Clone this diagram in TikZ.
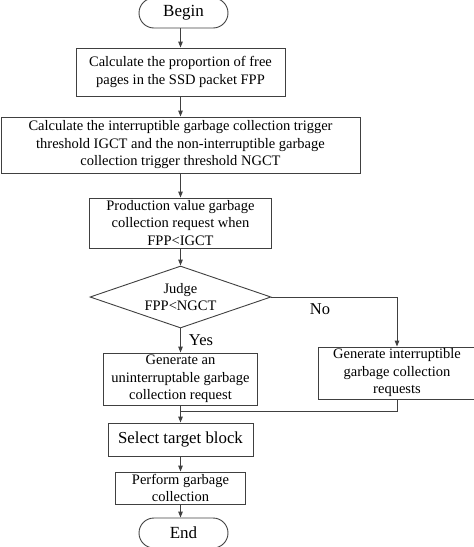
\documentclass[tikz,border=0pt]{standalone}
\usepackage{fontspec}
\setmainfont{Liberation Serif}
\usetikzlibrary{arrows.meta,shapes.geometric}
\tikzset{
  every picture/.style={x=1pt,y=-1pt},
  proc/.style={draw=black!75, line width=0.9pt, rectangle, inner sep=0pt, align=center,
    font=\fontsize{14.5}{17.5}\selectfont},
  term/.style={draw=black!75, line width=0.9pt, rectangle, rounded corners=15pt, inner sep=0pt,
    minimum width=89pt, minimum height=30pt, font=\fontsize{17}{20}\selectfont},
  dec/.style={draw=black!75, line width=0.9pt, diamond, aspect=3.2, inner sep=0pt,
    minimum width=181pt, minimum height=62pt, align=center, font=\fontsize{14.5}{17.5}\selectfont},
  arr/.style={draw=black!75, line width=0.9pt, -{Triangle[length=6pt,width=4.5pt]}},
  ln/.style={draw=black!75, line width=0.9pt},
  lab/.style={font=\fontsize{16.5}{18}\selectfont, inner sep=0pt}
}
\begin{document}
\begin{tikzpicture}
\useasboundingbox (0,0) rectangle (474,547);
\clip (0,0) rectangle (474,547);
\node[term] (begin) at (183.5,13) {Begin};
\node[proc, minimum width=209pt, minimum height=48pt] (b1) at (180.5,72)
  {Calculate the proportion of free\\pages in the SSD packet FPP};
\node[proc, minimum width=359pt, minimum height=56pt] (b2) at (180.5,145)
  {Calculate the interruptible garbage collection trigger\\threshold IGCT and the non-interruptible garbage\\collection trigger threshold NGCT};
\node[proc, minimum width=182pt, minimum height=50pt] (b3) at (180.5,223)
  {Production value garbage\\collection request when\\FPP<IGCT};
\node[dec] (dia) at (180.5,297) {Judge\\FPP<NGCT};
\node[proc, minimum width=154pt, minimum height=52pt] (b4) at (180.5,379)
  {Generate an\\uninterruptable garbage\\collection request};
\node[proc, minimum width=158pt, minimum height=52pt] (b5) at (397,373)
  {Generate interruptible\\garbage collection\\requests};
\node[proc, minimum width=145pt, minimum height=33pt, font=\fontsize{16.8}{19}\selectfont] (b6) at (180.5,439.5)
  {Select target block};
\node[proc, minimum width=130pt, minimum height=32pt] (b7) at (180.5,488)
  {Perform garbage\\collection};
\node[term] (end) at (183.5,533) {End};
\coordinate (m) at (180.5,411);
\node[lab] (yes) at (201,340) {Yes};
\node[lab] (no) at (320,309) {No};
\draw[arr] (begin.south -| b1) -- (b1.north);
\draw[arr] (b1) -- (b2);
\draw[arr] (b2) -- (b3);
\draw[arr] (b3) -- (dia);
\draw[arr] (dia) -- (b4);
\draw[arr] (dia.east) -| (b5.north);
\draw[arr] (b4) -- (b6);
\draw[ln] (b5.south) |- (m);
\draw[arr] (b6) -- (b7);
\draw[arr] (b7.south) -- (b7.south |- end.north);
\end{tikzpicture}
\end{document}
